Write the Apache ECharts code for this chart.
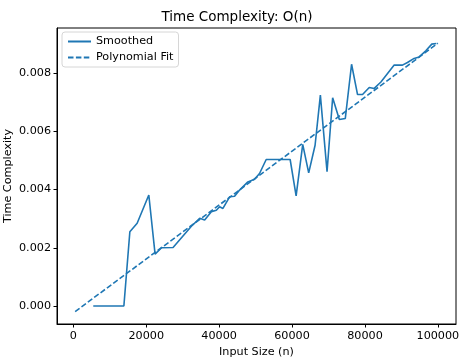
<!DOCTYPE html>
<html>
<head>
<meta charset="utf-8">
<script src="https://cdn.jsdelivr.net/npm/echarts@6/dist/echarts.min.js"></script>
<style>
html,body{margin:0;padding:0;background:#fff;}
#chart{width:474px;height:364px;}
</style>
</head>
<body>
<div id="chart"></div>
<script>
// ---- data ----
var smoothedN = [5470, 13870, 15510, 17510, 20710, 22430, 24190, 27360, 32390, 34660, 36030, 37860, 39230, 40130, 41040, 42870, 44240, 45610, 47880, 49710, 51080, 52910, 59480, 61120, 62930, 64570, 66320, 67770, 69600, 71140, 72970, 74610, 76330, 77970, 79340, 81180, 82540, 84380, 88020, 90290, 91660, 93490, 94860, 96690, 98330, 99590];
var smoothedV = [0.0, 0.0, 0.00255, 0.00284, 0.00381, 0.00178, 0.00200, 0.00201, 0.00274, 0.00301, 0.00295, 0.00324, 0.00329, 0.00341, 0.00335, 0.00375, 0.00377, 0.00398, 0.00426, 0.00435, 0.00455, 0.00503, 0.00503, 0.00378, 0.00555, 0.00457, 0.00552, 0.00724, 0.00461, 0.00715, 0.00640, 0.00644, 0.00830, 0.00726, 0.00726, 0.00750, 0.00747, 0.00769, 0.00827, 0.00827, 0.00836, 0.00850, 0.00855, 0.00876, 0.00899, 0.00901];
var fitN = [500, 100000];
var fitV = [-0.00019, 0.00902];
var xTicks = [0, 20000, 40000, 60000, 80000, 100000];
var yTicks = [0.000, 0.002, 0.004, 0.006, 0.008];
var seriesNames = ['Smoothed', 'Polynomial Fit'];
var titleText = 'Time Complexity: O(n)';
var xName = 'Input Size (n)';
var yName = 'Time Complexity';

function pairs(a, b) { return a.map(function (v, i) { return [v, b[i]]; }); }

var FONT = 'DejaVu Sans';
var FS = 11.2;
var chart = echarts.init(document.getElementById('chart'), null, {renderer: 'canvas'});
chart.setOption({
  animation: false,
  backgroundColor: '#ffffff',
  title: {
    text: titleText, left: 'center', top: 5,
    textStyle: {fontFamily: FONT, fontSize: 13.5, fontWeight: 'normal', color: '#000'}
  },
  legend: {
    orient: 'vertical', left: 62, top: 32,
    data: seriesNames,
    itemWidth: 23, itemHeight: 12, itemGap: 5,
    padding: [4, 5, 4, 5],
    backgroundColor: '#fff', borderColor: '#d6d6d6', borderWidth: 1, borderRadius: 3,
    itemStyle: {opacity: 0},
    textStyle: {fontFamily: FONT, fontSize: FS, color: '#000'}
  },
  grid: {left: 57, right: 18, top: 28, bottom: 40, show: true, borderColor: '#000', borderWidth: 1, backgroundColor: 'transparent', containLabel: false, outerBoundsMode: 'none'},
  xAxis: {
    type: 'value', min: -4475, max: 104975,
    name: xName, nameLocation: 'middle', nameGap: 23, nameMoveOverlap: false,
    nameTextStyle: {fontFamily: FONT, fontSize: FS, color: '#000'},
    axisLine: {show: true, onZero: false, lineStyle: {color: '#000', width: 1}},
    axisTick: {show: true, length: 3.5, lineStyle: {color: '#000'}, customValues: xTicks},
    axisLabel: {fontFamily: FONT, fontSize: FS, color: '#000', margin: 7, customValues: xTicks, formatter: function (v) { return String(v); }},
    splitLine: {show: false}
  },
  yAxis: {
    type: 'value', min: -0.000617, max: 0.009544,
    name: yName, nameLocation: 'middle', nameGap: 43, nameRotate: 90, nameMoveOverlap: false,
    nameTextStyle: {fontFamily: FONT, fontSize: FS, color: '#000'},
    axisLine: {show: true, onZero: false, lineStyle: {color: '#000', width: 1}},
    axisTick: {show: true, length: 3.5, lineStyle: {color: '#000'}, customValues: yTicks},
    axisLabel: {fontFamily: FONT, fontSize: FS, color: '#000', margin: 6, customValues: yTicks, formatter: function (v) { return v.toFixed(3); }},
    splitLine: {show: false}
  },
  series: [
    {
      name: seriesNames[0], type: 'line', data: pairs(smoothedN, smoothedV),
      symbol: 'none', showSymbol: false,
      lineStyle: {color: '#1f77b4', width: 1.6}, itemStyle: {color: '#1f77b4'}
    },
    {
      name: seriesNames[1], type: 'line', data: pairs(fitN, fitV),
      symbol: 'none', showSymbol: false,
      lineStyle: {color: '#1f77b4', width: 1.6, type: [5.5, 2.4]}, itemStyle: {color: '#1f77b4'}
    }
  ]
});
</script>
</body>
</html>
